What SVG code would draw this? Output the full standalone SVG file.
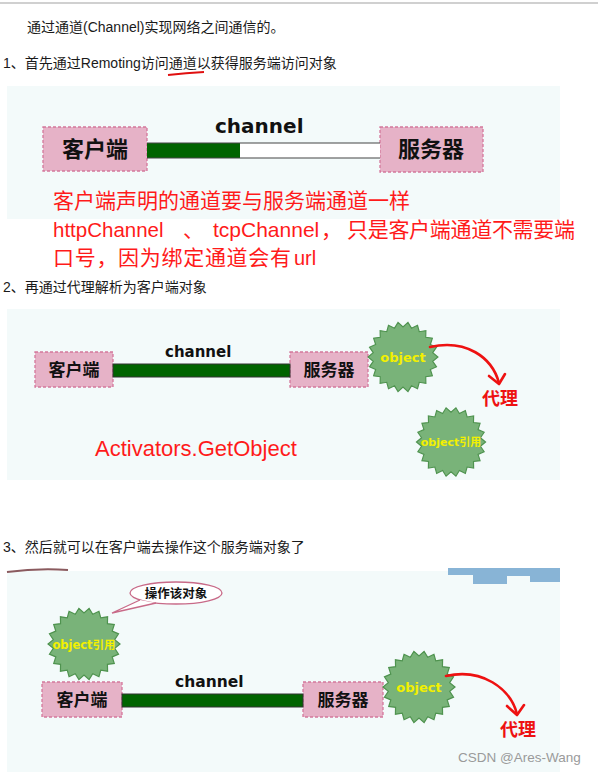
<svg xmlns="http://www.w3.org/2000/svg" xmlns:xlink="http://www.w3.org/1999/xlink" width="598" height="774" viewBox="0 0 598 774">
<style>
.hdr{font-family:"Liberation Sans","Noto Sans CJK SC",sans-serif;font-size:14px;fill:#1a1a1a}
.panel{fill:#f3fafa}
.box{fill:#e6b2c7;stroke:#d4789c;stroke-width:1.3;stroke-dasharray:3 2}
.boxtxt{font-family:"Noto Sans CJK SC",sans-serif;font-weight:bold;fill:#111;text-anchor:middle}
.chl{font-family:"DejaVu Sans",sans-serif;font-weight:bold;fill:#111}
.bar{fill:#006400;stroke:#333;stroke-width:1}
.star{fill:#79b379;stroke:#4f934f;stroke-width:1.2}
.obj{font-family:"DejaVu Sans",sans-serif;font-weight:bold;fill:#f2f000;text-anchor:middle}
.objcjk{font-family:"DejaVu Sans","Noto Sans CJK SC",sans-serif;font-weight:bold;fill:#f2f000;text-anchor:middle}
.red{font-family:"Liberation Sans","Noto Sans CJK SC",sans-serif;font-size:21px;fill:#ff1a1a}
.proxy{font-family:"Noto Sans CJK SC",sans-serif;font-weight:bold;fill:#ee1111;text-anchor:middle}
.arr{fill:none;stroke:#ee1111;stroke-width:2.6;stroke-linecap:round;stroke-linejoin:round}
</style>
<defs>
<path id="starShape" d="M36,0 L30.68,4.41 L34.54,10.14 L28.2,12.88 L30.29,19.46 L23.43,20.3 L23.58,27.21 L16.76,26.08 L14.95,32.75 L8.73,29.74 L5.12,35.63 L0,31 L-5.12,35.63 L-8.73,29.74 L-14.95,32.75 L-16.76,26.08 L-23.58,27.21 L-23.43,20.3 L-30.29,19.46 L-28.2,12.88 L-34.54,10.14 L-30.68,4.41 L-36,0 L-30.68,-4.41 L-34.54,-10.14 L-28.2,-12.88 L-30.29,-19.46 L-23.43,-20.3 L-23.58,-27.21 L-16.76,-26.08 L-14.95,-32.75 L-8.73,-29.74 L-5.12,-35.63 L0,-31 L5.12,-35.63 L8.73,-29.74 L14.95,-32.75 L16.76,-26.08 L23.58,-27.21 L23.43,-20.3 L30.29,-19.46 L28.2,-12.88 L34.54,-10.14 L30.68,-4.41 Z"/>
</defs>
<rect width="598" height="774" fill="#ffffff"/>
<line x1="0" y1="3" x2="598" y2="3" stroke="#c0c0c0" stroke-width="1.5"/>

<g id="header-1">
<text class="hdr" x="27" y="32">通过通道(Channel)实现网络之间通信的。</text>
<text class="hdr" x="3" y="68">1、首先通过Remoting访问通道以获得服务端访问对象</text>
<path d="M168,75 Q186,73 204,72" fill="none" stroke="#e01010" stroke-width="2"/>
</g>

<g id="panel-1">
<rect class="panel" x="7" y="86" width="553" height="133"/>
<g id="p1-client"><rect class="box" x="43" y="127" width="104" height="44"/><text class="boxtxt" x="95" y="157" font-size="22">客户端</text></g>
<g id="p1-server"><rect class="box" x="380" y="127" width="103" height="45"/><text class="boxtxt" x="431" y="157" font-size="22">服务器</text></g>
<text class="chl" x="215" y="133" font-size="20">channel</text>
<text class="red" x="53" y="208">客户端声明的通道要与服务端通道一样</text>
<text class="red" y="237"><tspan x="53" font-size="20.5">httpChannel</tspan><tspan x="183">、</tspan><tspan x="213" font-size="21">tcpChannel</tspan><tspan x="321">，</tspan><tspan x="347" textLength="228" lengthAdjust="spacing">只是客户端通道不需要端</tspan></text>
<text class="red" y="265"><tspan x="53" textLength="238" lengthAdjust="spacing">口号，因为绑定通道会有</tspan><tspan x="294" font-size="20">url</tspan></text>
</g>

<text class="hdr" x="3" y="292">2、再通过代理解析为客户端对象</text>

<g id="panel-2">
<rect class="panel" x="7" y="309" width="553" height="171"/>
<g id="p2-client"><rect class="box" x="35" y="352" width="78" height="35"/><text class="boxtxt" x="74" y="376" font-size="17">客户端</text></g>
<g id="p2-server"><rect class="box" x="290" y="352" width="78" height="35"/><text class="boxtxt" x="329" y="376" font-size="17">服务器</text></g>
<text class="chl" x="165" y="357" font-size="15">channel</text>
<g id="p2-object"><use xlink:href="#starShape" class="star" transform="translate(403,357) scale(0.97)"/><text class="obj" x="403" y="362" font-size="13">object</text></g>
<g id="p2-proxy"><text class="proxy" x="500" y="405" font-size="18">代理</text></g>
<g id="p2-objref"><use xlink:href="#starShape" class="star" transform="translate(451,442) scale(0.96)"/><text class="objcjk" x="451" y="446" font-size="11">object引用</text></g>
<text x="95" y="456" font-family="Liberation Sans, sans-serif" font-size="22" fill="#ff1a1a">Activators.GetObject</text>
</g>

<text class="hdr" x="3" y="552">3、然后就可以在客户端去操作这个服务端对象了</text>

<g id="panel-3">
<rect class="panel" x="7" y="571" width="553" height="201"/>
<path d="M7,572 Q38,568 68,570" fill="none" stroke="#8a5a5e" stroke-width="2"/>
<polygon points="448,568 560,568 560,582 530,582 530,576 507,576 507,584 473,584 473,575 448,575" fill="#88b4d6"/>
<g id="p3-bubble">
<ellipse cx="176" cy="593" rx="46" ry="11" fill="#ffffff" stroke="#c86a88" stroke-width="1.3"/>
<path d="M140,600 L112,613 L156,603" fill="#ffffff" stroke="#c86a88" stroke-width="1.3"/>
<text class="boxtxt" x="176" y="598" font-size="12.5">操作该对象</text>
</g>
<g id="p3-objref"><use xlink:href="#starShape" class="star" transform="translate(84,644)"/><text class="objcjk" x="84" y="649" font-size="11.5">object引用</text></g>
<g id="p3-client"><rect class="box" x="42" y="682" width="80" height="35"/><text class="boxtxt" x="82" y="706" font-size="17">客户端</text></g>
<g id="p3-server"><rect class="box" x="303" y="682" width="80" height="35"/><text class="boxtxt" x="343" y="706" font-size="17">服务器</text></g>
<text class="chl" x="175" y="687" font-size="15.5">channel</text>
<g id="p3-object"><use xlink:href="#starShape" class="star" transform="translate(419,687)"/><text class="obj" x="419" y="692" font-size="13">object</text></g>
<g id="p3-proxy"><text class="proxy" x="518" y="736" font-size="18">代理</text></g>
<text x="458" y="762" font-family="Liberation Sans, sans-serif" font-size="13.5" fill="#9a9a9a">CSDN @Ares-Wang</text>
</g>

<g id="connectors">
<rect x="147" y="143" width="93" height="15" fill="#006400"/>
<rect x="240" y="143" width="140" height="15" fill="#ffffff"/>
<line x1="147" y1="143" x2="380" y2="143" stroke="#444" stroke-width="1.2"/>
<line x1="147" y1="158" x2="380" y2="158" stroke="#444" stroke-width="1.2"/>
<rect class="bar" x="113" y="364" width="177" height="13"/>
<rect class="bar" x="122" y="694" width="181" height="13"/>
<path class="arr" d="M430,347 C466,339 492,357 499,383"/>
<polyline class="arr" points="489,376 499,384 505,374"/>
<path class="arr" d="M446,676 C482,668 510,688 517,714"/>
<polyline class="arr" points="507,706 517,715 524,705"/>
</g>
</svg>
